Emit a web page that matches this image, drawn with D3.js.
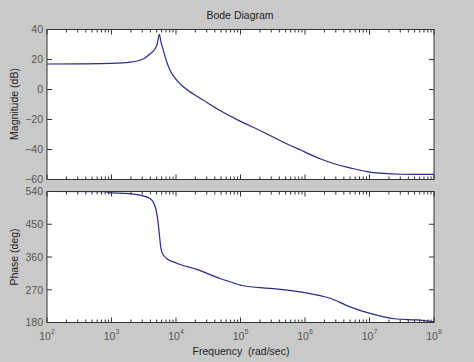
<!DOCTYPE html>
<html><head><meta charset="utf-8">
<script src="https://cdn.jsdelivr.net/npm/d3@7"></script>
<style>
body{margin:0;background:#c9c9c9;}
svg{display:block;}
text{font-family:"Liberation Sans",Arial,sans-serif;}
</style></head>
<body>
<svg id="c" width="474" height="362"></svg>
<script>
// ---- data (log10 frequency in rad/sec) ----
const magLogFreq = [2, 2.5, 3, 3.29, 3.5, 3.6, 3.674, 3.71, 3.741, 3.77, 3.803, 3.856, 3.907, 4.011, 4.113, 4.268, 4.40, 4.682, 4.992, 5.302, 5.612, 5.922, 6.233, 6.491, 6.698, 6.957, 7.163, 7.519, 8];
const magDb      = [17, 17.1, 17.4, 18.2, 20.5, 23.8, 27, 30.5, 36.7, 31, 26.2, 18.5, 12.9, 6.2, 1.8, -3, -6.5, -14, -21.1, -27.3, -34, -40.2, -46.2, -50, -52.2, -54.7, -55.8, -56.5, -56.6];
const phLogFreq  = [2, 2.9, 3.0, 3.2, 3.442, 3.597, 3.674, 3.71, 3.736, 3.763, 3.794, 3.856, 4.011, 4.321, 4.682, 4.837, 5.043, 5.457, 5.974, 6.388, 6.698, 7.008, 7.422, 7.732, 8];
const phDeg      = [540, 539.5, 536, 535, 530, 521, 500, 471, 434, 388, 368, 356, 343, 326, 301, 292, 281, 274, 263, 246.5, 223, 205, 189.6, 187, 182];
const magTicks   = [40, 20, 0, -20, -40, -60];
const phTicks    = [540, 450, 360, 270, 180];
const decades    = [2, 3, 4, 5, 6, 7, 8];

const svg = d3.select("#c");
const L = 47, R = 434;
const x = d3.scaleLog().domain([1e2, 1e8]).range([L, R]);
const yMag = d3.scaleLinear().domain([-60, 40]).range([179.5, 29.5]);
const yPh  = d3.scaleLinear().domain([180, 540]).range([322.5, 191.5]);
const lineCol = "#2a2a8a", axCol = "#333";

function panel(y, ticks, lf, vals, showX){
  const [b, t] = y.range();
  svg.append("rect").attr("x", L).attr("y", t).attr("width", R-L).attr("height", b-t).attr("fill", "#fff");
  const pts = lf.map((v,i)=>[Math.pow(10,v), vals[i]]);
  svg.append("path").datum(pts)
    .attr("d", d3.line().x(d=>x(d[0])).y(d=>y(d[1])).curve(d3.curveMonotoneX))
    .attr("fill","none").attr("stroke",lineCol).attr("stroke-width",1.2);
  const minor = [];
  decades.slice(0,-1).forEach(d=>{ for(let k=2;k<=9;k++) minor.push(k*Math.pow(10,d)); });
  const g = svg.append("g").attr("stroke", axCol).attr("stroke-width", 1);
  minor.forEach(f=>{
    g.append("line").attr("x1",x(f)).attr("x2",x(f)).attr("y1",b).attr("y2",b-3);
    g.append("line").attr("x1",x(f)).attr("x2",x(f)).attr("y1",t).attr("y2",t+3);
  });
  decades.forEach(d=>{
    const f = Math.pow(10,d);
    g.append("line").attr("x1",x(f)).attr("x2",x(f)).attr("y1",b).attr("y2",b-5);
    g.append("line").attr("x1",x(f)).attr("x2",x(f)).attr("y1",t).attr("y2",t+5);
  });
  ticks.forEach(v=>{
    g.append("line").attr("x1",L).attr("x2",L+5).attr("y1",y(v)).attr("y2",y(v));
    g.append("line").attr("x1",R).attr("x2",R-5).attr("y1",y(v)).attr("y2",y(v));
  });
  const ya = d3.axisLeft(y).tickValues(ticks).tickSize(0).tickPadding(4);
  const ag = svg.append("g").attr("transform",`translate(${L},0)`).call(ya);
  ag.select(".domain").remove();
  ag.selectAll("text").attr("font-size",10.5).attr("fill","#555").attr("font-family","Liberation Sans, Arial, sans-serif");
  svg.append("rect").attr("x", L).attr("y", t).attr("width", R-L).attr("height", b-t)
    .attr("fill","none").attr("stroke",axCol).attr("stroke-width",1);
  if(showX){
    decades.forEach(d=>{
      const tx = svg.append("text").attr("x", x(Math.pow(10,d))).attr("y", b+17)
        .attr("text-anchor","middle").attr("font-size",10.5).attr("fill","#555");
      tx.append("tspan").text("10");
      tx.append("tspan").attr("dy",-6).attr("font-size",7).text(d);
    });
  }
}
panel(yMag, magTicks, magLogFreq, magDb, false);
panel(yPh, phTicks, phLogFreq, phDeg, true);

svg.append("text").attr("x",240).attr("y",19).attr("text-anchor","middle")
  .attr("font-size",10.5).attr("fill","#222").text("Bode Diagram");
svg.append("text").attr("x",241).attr("y",355).attr("text-anchor","middle")
  .attr("font-size",10.5).attr("fill","#222").attr("xml:space","preserve").text("Frequency  (rad/sec)");
svg.append("text").attr("transform","translate(18,104) rotate(-90)").attr("text-anchor","middle")
  .attr("font-size",10.5).attr("fill","#222").text("Magnitude (dB)");
svg.append("text").attr("transform","translate(18,257) rotate(-90)").attr("text-anchor","middle")
  .attr("font-size",10.5).attr("fill","#222").text("Phase (deg)");
</script>
</body></html>
